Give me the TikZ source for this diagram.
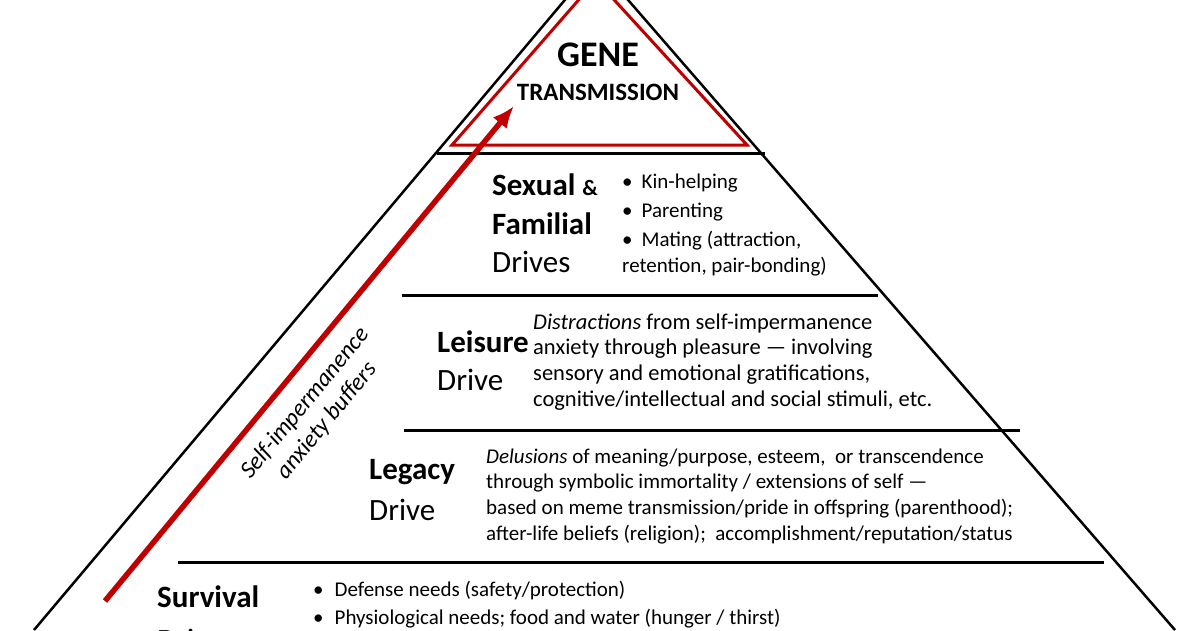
\documentclass[tikz,border=0pt]{standalone}
\usepackage{fontspec}
\setmainfont{Carlito}
\usetikzlibrary{arrows.meta}
\begin{document}
\begin{tikzpicture}[x=1pt,y=-1pt,
  big/.style={font=\fontsize{31}{34}\selectfont\bfseries,anchor=west,inner sep=0},
  bigr/.style={font=\fontsize{31}{34}\selectfont,anchor=west,inner sep=0},
  txt/.style={font=\fontsize{21}{24}\selectfont,anchor=west,inner sep=0},
  txtl/.style={font=\fontsize{22.5}{24}\selectfont,anchor=west,inner sep=0},
  divider/.style={line width=3pt}]
\useasboundingbox (0,0) rectangle (1200,630);
\clip (0,0) rectangle (1200,630);
\fill[white] (0,0) rectangle (1200,630);
% pyramid
\coordinate (apex) at (596,-37);
\coordinate (bl) at (34,630);
\coordinate (br) at (1175,630);
\draw[line width=2.5pt] (bl) -- (apex) -- (br);
\draw[divider] (437,153) -- (765,153);
\draw[divider] (402,295) -- (878,295);
\draw[divider] (404,430) -- (1020,430);
\draw[divider] (178,562) -- (1104,562);
% red triangle
\draw[red!75!black,line width=3pt,line join=miter] (452,145) -- (596,-20) -- (747,145) -- cycle;
% arrow
\coordinate (as) at (105,601);
\coordinate (ae) at (514,106);
\draw[red!75!black,line width=5.5pt,-{Latex[length=22pt,width=18pt]}] (as) -- (ae);
\node[rotate=50.5,font=\fontsize{24}{28}\selectfont\itshape,align=center] (buf) at (316,412) {Self-impermanence\\anxiety buffers};
% top
\node[font=\fontsize{36}{38}\selectfont\bfseries] (gene) at (598,55) {GENE};
\node[font=\fontsize{25}{27}\selectfont\bfseries] (trans) at (598,92) {TRANSMISSION};
% sexual
\node[big] (sex) at (492,185) {Sexual {\fontsize{22}{24}\selectfont\&}};
\node[big] (fam) at (492,224) {Familial};
\node[bigr] (drs) at (492,262) {Drives};
\node[txt] (b1) at (622,183) {•\hspace{9pt}Kin-helping};
\node[txt] (b2) at (622,212) {•\hspace{9pt}Parenting};
\node[txt] (b3) at (622,241) {•\hspace{9pt}Mating (attraction,};
\node[txt] (b4) at (622,267) {retention, pair-bonding)};
% leisure
\node[big] (lei) at (437,342) {Leisure};
\node[bigr] (led) at (437,380) {Drive};
\node[txtl] (l1) at (533,323) {\textit{Distractions} from self-impermanence};
\node[txtl] (l2) at (533,349) {anxiety through pleasure — involving};
\node[txtl] (l3) at (533,375) {sensory and emotional gratifications,};
\node[txtl] (l4) at (533,401) {cognitive/intellectual and social stimuli, etc.};
% legacy
\node[big] (leg) at (369,472) {Legacy};
\node[bigr] (lgd) at (369,510) {Drive};
\node[txt] (g1) at (486,458) {\textit{Delusions} of meaning/purpose, esteem,\ \ or transcendence};
\node[txt] (g2) at (486,483) {through symbolic immortality / extensions of self —};
\node[txt] (g3) at (486,509) {based on meme transmission/pride in offspring (parenthood);};
\node[txt] (g4) at (486,535) {after-life beliefs (religion);\ \ accomplishment/reputation/status};
% survival
\node[big] (sur) at (157,597) {Survival};
\node[bigr] (sud) at (157,640) {Drive};
\node[txt] (s1) at (313,591) {•\hspace{11pt}Defense needs (safety/protection)};
\node[txt] (s2) at (313,619) {•\hspace{11pt}Physiological needs; food and water (hunger / thirst)};
\end{tikzpicture}
\end{document}
